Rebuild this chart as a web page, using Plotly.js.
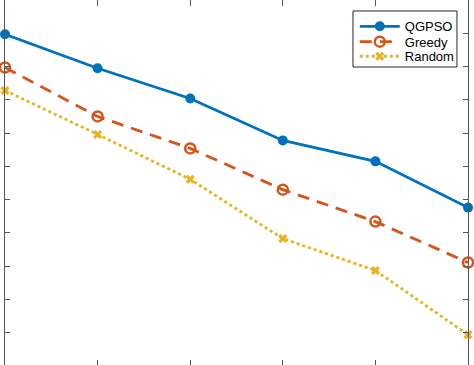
<!DOCTYPE html>
<html>
<head>
<meta charset="utf-8">
<script src="https://cdn.plot.ly/plotly-3.0.1.min.js"></script>
<style>
  html, body { margin: 0; padding: 0; overflow: hidden; background: #fff; }
  #chart { position: absolute; left: 0; top: -20px; width: 474px; height: 406px; }
</style>
</head>
<body>
<div id="chart"></div>
<script>
// Data (y in tick units; axis labels are cropped out)
const xValues = [1, 2, 3, 4, 5, 6];
const qgpso  = [9.97, 8.95, 8.04, 6.78, 6.15, 4.76];
const greedy = [8.97, 7.50, 6.54, 5.30, 4.34, 3.11];
const random = [8.28, 6.96, 5.61, 3.83, 2.87, 0.94];
const seriesNames = ['QGPSO', 'Greedy', 'Random'];

const traces = [
  {
    x: xValues, y: qgpso, name: seriesNames[0], type: 'scatter', mode: 'lines+markers',
    line: { color: '#0072BD', width: 2.8 },
    marker: { symbol: 'circle', size: 10, color: '#0072BD' },
    cliponaxis: false, legend: 'legend'
  },
  {
    x: xValues, y: greedy, name: seriesNames[1], type: 'scatter', mode: 'lines+markers',
    line: { color: '#D95319', width: 2.8, dash: '12px,8px' },
    marker: { symbol: 'circle-open', size: 10, color: '#D95319', line: { width: 2.5, color: '#D95319' } },
    cliponaxis: false, legend: 'legend2'
  },
  {
    x: xValues, y: random, name: seriesNames[2], type: 'scatter', mode: 'lines+markers',
    line: { color: '#EDB120', width: 2.8, dash: 'dot' },
    marker: { symbol: 'x', size: 8, color: '#EDB120' },
    cliponaxis: false, legend: 'legend3'
  }
];

const legendBase = {
  x: 0.7555, xanchor: 'left', yanchor: 'top',
  bgcolor: 'rgba(0,0,0,0)', borderwidth: 0,
  font: { family: 'Liberation Sans, Arial, sans-serif', size: 13, color: '#000' },
  itemwidth: 40
};

const layout = {
  width: 474, height: 406,
  margin: { l: 5, r: 6, t: 20, b: 20, pad: 0 },
  paper_bgcolor: '#ffffff', plot_bgcolor: '#ffffff',
  showlegend: true,
  legend:  Object.assign({}, legendBase, { y: 0.969 }),
  legend2: Object.assign({}, legendBase, { y: 0.927 }),
  legend3: Object.assign({}, legendBase, { y: 0.8872 }),
  shapes: [{
    type: 'rect', xref: 'paper', yref: 'paper',
    x0: 0.7516, x1: 0.9762, y0: 0.8169, y1: 0.96995,
    line: { color: '#262626', width: 1 }, fillcolor: '#ffffff', layer: 'above'
  }],
  xaxis: {
    range: [1, 6], tickvals: xValues, showticklabels: false,
    ticks: 'inside', ticklen: 6, tickwidth: 1, tickcolor: '#555',
    showline: true, linecolor: '#555', linewidth: 1, mirror: 'ticks',
    showgrid: false, zeroline: false, fixedrange: true
  },
  yaxis: {
    range: [0, 11], dtick: 1, tick0: 0, showticklabels: false,
    ticks: 'inside', ticklen: 5, tickwidth: 1, tickcolor: '#555',
    showline: true, linecolor: '#555', linewidth: 1, mirror: 'ticks',
    showgrid: false, zeroline: false, fixedrange: true
  }
};

Plotly.newPlot('chart', traces, layout, { displayModeBar: false, staticPlot: true });
</script>
</body>
</html>
